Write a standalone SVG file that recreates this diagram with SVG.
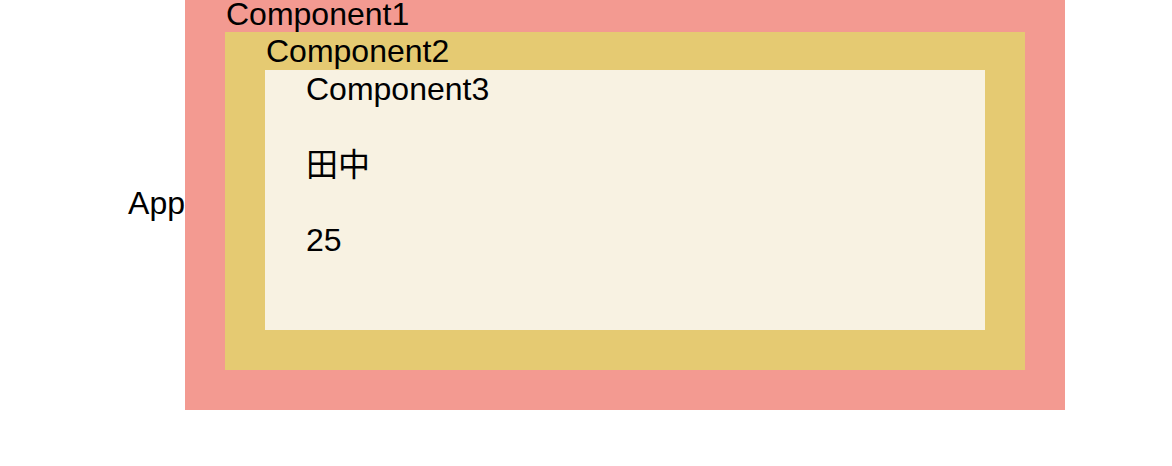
<svg xmlns="http://www.w3.org/2000/svg" width="1172" height="466" viewBox="0 0 1172 466">
<style>
text{font-family:"Liberation Sans","Noto Sans CJK JP",sans-serif;font-size:32px;fill:#000}
</style>
<rect width="1172" height="466" fill="#ffffff"/>
<g id="app">
<text x="185" y="214" text-anchor="end">App</text>
</g>
<g id="component1">
<rect x="185" y="0" width="880" height="410" fill="#F39A91"/>
<text x="226" y="25">Component1</text>
</g>
<g id="component2">
<rect x="225" y="32" width="800" height="338" fill="#E5CA72"/>
<text x="266" y="62">Component2</text>
</g>
<g id="component3">
<rect x="265" y="70" width="720" height="260" fill="#F8F2E2"/>
<text x="306" y="100">Component3</text>
<text x="306" y="176">田中</text>
<text x="306" y="251">25</text>
</g>
<g id="connectors"></g>
</svg>
